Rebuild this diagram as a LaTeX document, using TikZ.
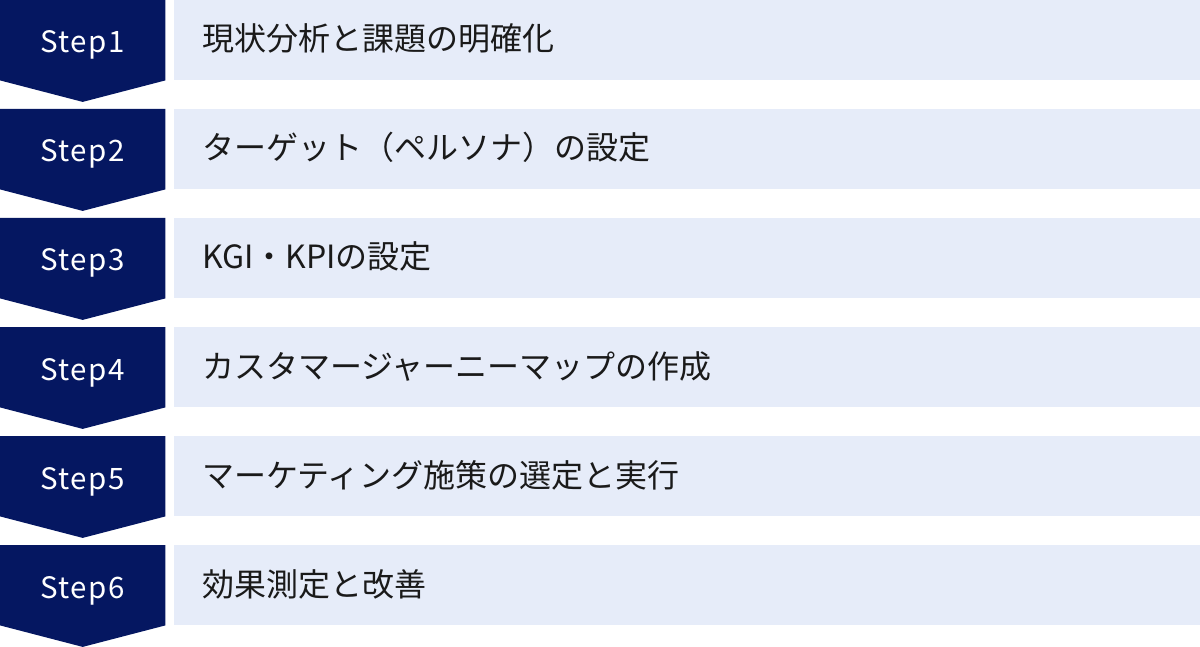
\documentclass[tikz,border=0pt]{standalone}
\usepackage{fontspec}
\setmainfont{Noto Sans CJK JP}
\usetikzlibrary{calc,backgrounds}
\definecolor{navy}{HTML}{051761}
\definecolor{lightbox}{HTML}{E6ECF9}
\definecolor{ink}{HTML}{1A1A1A}
\tikzset{
  stepbox/.style={draw=none, minimum width=165pt, minimum height=80pt, inner sep=0pt, anchor=north west},
  steplabel/.style={text=white, font=\fontsize{29.5}{30}\selectfont\addfontfeatures{LetterSpace=5}, anchor=base, inner sep=0pt},
  descbox/.style={fill=lightbox, draw=none, minimum width=1026pt, minimum height=80pt, inner sep=0pt, anchor=north west},
  desctext/.style={text=ink, font=\fontsize{32}{34}\selectfont, anchor=base west, inner sep=0pt},
  chevron/.style={fill=navy, draw=none}
}
\begin{document}
\begin{tikzpicture}[x=1pt,y=-1pt]
\useasboundingbox (0,0) rectangle (1200,647);
\foreach \i/\t in {1/現状分析と課題の明確化,2/ターゲット（ペルソナ）の設定,3/KGI・KPIの設定,4/カスタマージャーニーマップの作成,5/マーケティング施策の選定と実行,6/効果測定と改善}{
  \node[stepbox] (s\i) at (0,{(\i-1)*109}) {};
  \fill[chevron] (s\i.north west) -- (s\i.north east) -- (s\i.south east) -- ($(s\i.south)+(0,21.5)$) -- (s\i.south west) -- cycle;
  \node[steplabel] (l\i) at ($(s\i.north)+(0,53)$) {Step\i};
  \node[descbox] (b\i) at (174,{(\i-1)*109}) {};
  \node[desctext] (t\i) at ($(b\i.north west)+(28,51)$) {\t};
}
\end{tikzpicture}
\end{document}
